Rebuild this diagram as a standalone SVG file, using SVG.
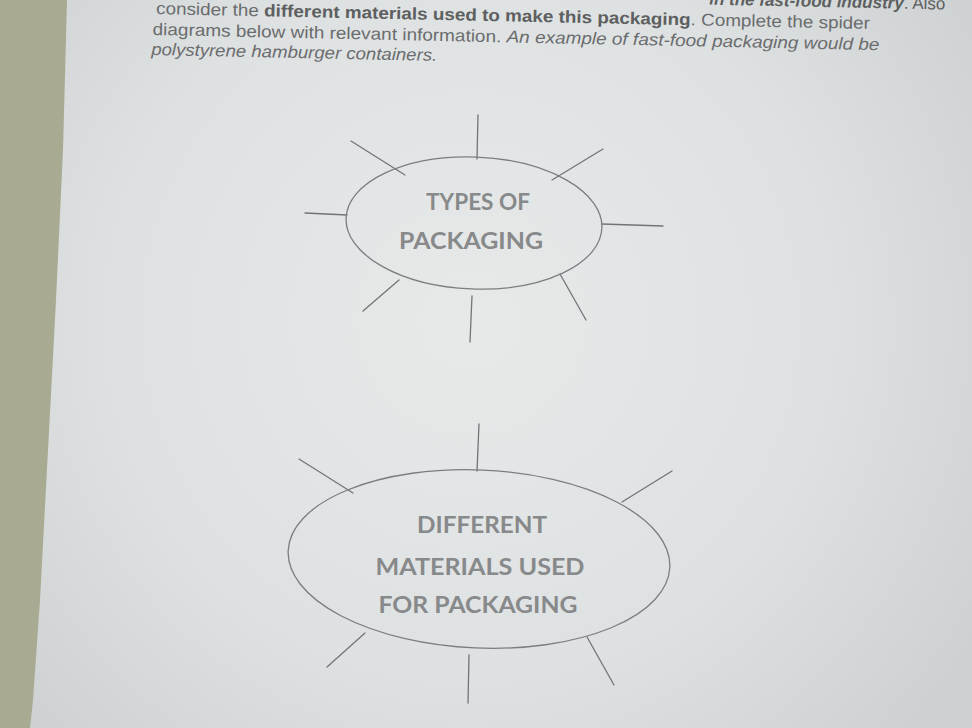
<svg xmlns="http://www.w3.org/2000/svg" width="972" height="728" viewBox="0 0 972 728">
<defs>
<radialGradient id="paper" cx="470" cy="320" r="600" gradientUnits="userSpaceOnUse">
<stop offset="0" stop-color="#e7e9e9"/>
<stop offset="0.6" stop-color="#dee1e2"/>
<stop offset="1" stop-color="#cdd1d2"/>
</radialGradient>
<style>
.hdr{font-family:"Liberation Sans",Arial,sans-serif;font-size:17px;fill:#6a6c6d}
.b{font-weight:bold;fill:#5d5f60}
.i{font-style:italic}
.node{fill:none;stroke:#7b7e7f;stroke-width:1.3}
.lbl{font-family:Lato,"Open Sans",sans-serif;font-weight:bold;font-size:23px;fill:#87898a;text-anchor:middle}
.spoke{stroke:#727576;stroke-width:1.3;stroke-linecap:round}
</style>
</defs>
<rect width="972" height="728" fill="url(#paper)"/>
<polygon points="0,0 67,0 63,150 56,300 48,450 40,600 33,700 30,728 0,728" fill="#a9aa92"/>
<g id="header" transform="rotate(1.2 155 14)">
<text class="hdr b" x="945" y="-7" text-anchor="end"><tspan class="i">in the fast-food industry</tspan><tspan font-weight="normal">. Also</tspan></text>
<text class="hdr" x="156" y="14" textLength="714" lengthAdjust="spacingAndGlyphs">consider the <tspan class="b">different materials used to make this packaging</tspan>. Complete the spider</text>
<text class="hdr" x="153" y="35" textLength="727" lengthAdjust="spacingAndGlyphs">diagrams below with relevant information. <tspan class="i">An example of fast-food packaging would be</tspan></text>
<text class="hdr i" x="152" y="55" textLength="286" lengthAdjust="spacingAndGlyphs">polystyrene hamburger containers.</text>
</g>
<g id="connectors">
<line class="spoke" x1="478" y1="115" x2="477" y2="159"/>
<line class="spoke" x1="351" y1="141" x2="405" y2="175"/>
<line class="spoke" x1="603" y1="149" x2="552" y2="180"/>
<line class="spoke" x1="305" y1="213" x2="347" y2="215"/>
<line class="spoke" x1="602" y1="224" x2="663" y2="226"/>
<line class="spoke" x1="399" y1="280" x2="363" y2="311"/>
<line class="spoke" x1="472" y1="296" x2="470" y2="342"/>
<line class="spoke" x1="560" y1="274" x2="586" y2="320"/>
<line class="spoke" x1="479" y1="424" x2="477" y2="471"/>
<line class="spoke" x1="299" y1="459" x2="353" y2="493"/>
<line class="spoke" x1="672" y1="471" x2="622" y2="502"/>
<line class="spoke" x1="365" y1="633" x2="327" y2="667"/>
<line class="spoke" x1="469" y1="655" x2="468" y2="703"/>
<line class="spoke" x1="587" y1="637" x2="614" y2="685"/>
</g>
<g id="node-types">
<ellipse class="node" cx="474" cy="223" rx="128" ry="66" transform="rotate(2.2 474 223)"/>
<text class="lbl" x="478" y="210" textLength="104" lengthAdjust="spacingAndGlyphs">TYPES OF</text>
<text class="lbl" x="471" y="249" textLength="144" lengthAdjust="spacingAndGlyphs">PACKAGING</text>
</g>
<g id="node-materials">
<ellipse class="node" cx="479" cy="559" rx="191" ry="89" transform="rotate(2.5 479 559)"/>
<text class="lbl" x="482" y="533" textLength="130" lengthAdjust="spacingAndGlyphs">DIFFERENT</text>
<text class="lbl" x="480" y="575" textLength="209" lengthAdjust="spacingAndGlyphs">MATERIALS USED</text>
<text class="lbl" x="478" y="613" textLength="199" lengthAdjust="spacingAndGlyphs">FOR PACKAGING</text>
</g>
</svg>
